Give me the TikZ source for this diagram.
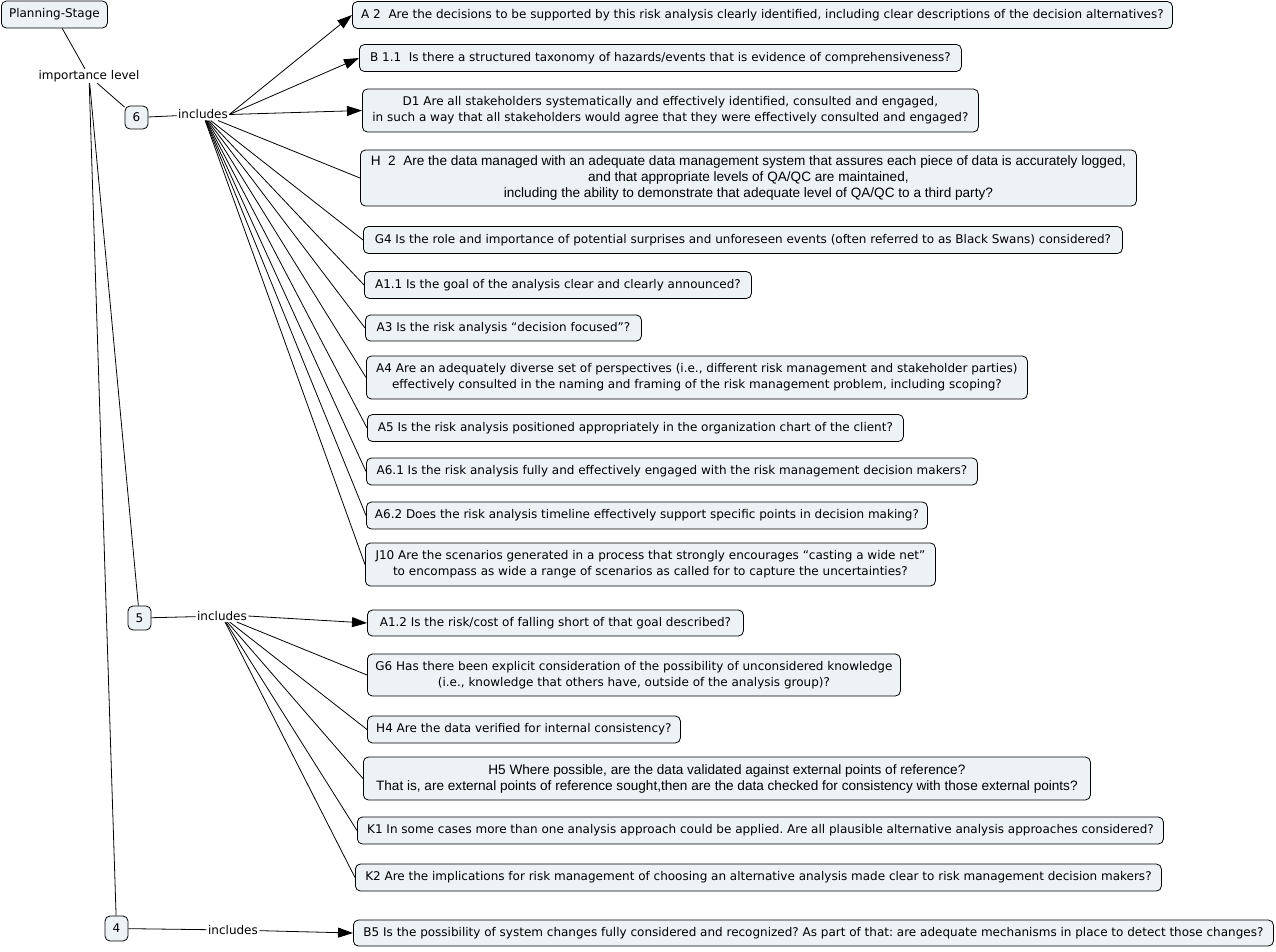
\documentclass[tikz,border=0pt]{standalone}
\usepackage{fontspec}
\setmainfont{DejaVu Sans}
\newfontfamily\hfont{Liberation Sans}
\usetikzlibrary{arrows.meta}
\definecolor{myblue1}{RGB}{237, 242, 245}
\tikzset{>={Triangle[length=15pt,width=10pt]}}
\tikzset{qbox/.style 2 args={draw, fill=myblue1, rounded corners=5pt, anchor=west, align=center, inner xsep=5pt, inner ysep=4pt, minimum width=#1, minimum height=#2}}
\tikzset{lnk/.style={inner sep=1pt}}
\newcommand{\hqfont}{\hfont\fontsize{13.6}{16}\selectfont}
\frenchspacing
\begin{document}
\begin{tikzpicture}[x=1pt, y=-1pt, line width=0.8pt, font=\fontsize{12}{16}\selectfont]
\useasboundingbox (0,0) rectangle (1276,951);
\node[qbox={106pt}{27pt}] (plan) at (1,14.5) {Planning-Stage};
\node[lnk] (imp) at (89,76) {importance level};
\node[qbox={23pt}{23pt}, anchor=center] (n6) at (136.5,117.5) {6};
\node[qbox={23pt}{24pt}, anchor=center] (n5) at (139.5,618) {5};
\node[qbox={23pt}{25pt}, anchor=center] (n4) at (116.5,928.5) {4};
\node[lnk] (inc6) at (203,114.5) {includes};
\node[lnk] (inc5) at (222,616) {includes};
\node[lnk] (inc4) at (233,930) {includes};
\node[qbox={820pt}{27pt}] (A2) at (352,15) {A 2~ Are the decisions to be supported by this risk analysis clearly identified, including clear descriptions of the decision alternatives?};
\node[qbox={602pt}{27pt}] (B11) at (359,58) {B 1.1~ Is there a structured taxonomy of hazards/events that is evidence of comprehensiveness?};
\node[qbox={616pt}{43pt}] (D1) at (362,110.5) {D1 Are all stakeholders systematically and effectively identified, consulted and engaged,\\ in such a way that all stakeholders would agree that they were effectively consulted and engaged?};
\node[qbox={776pt}{56pt}, font=\hqfont] (H2) at (360,178) {H~ 2~ Are the data managed with an adequate data management system that assures each piece of data is accurately logged,\\ and that appropriate levels of QA/QC are maintained,\\ including the ability to demonstrate that adequate level of QA/QC to a third party?};
\node[qbox={759pt}{27pt}] (G4) at (363,240) {G4 Is the role and importance of potential surprises and unforeseen events (often referred to as Black Swans) considered?};
\node[qbox={387pt}{27pt}] (A11) at (364,285) {A1.1 Is the goal of the analysis clear and clearly announced?};
\node[qbox={276pt}{26pt}] (A3) at (365,328) {A3 Is the risk analysis “decision focused”?};
\node[qbox={661pt}{43pt}] (A4) at (366,377.5) {A4 Are an adequately diverse set of perspectives (i.e., different risk management and stakeholder parties)\\ effectively consulted in the naming and framing of the risk management problem, including scoping?};
\node[qbox={536pt}{27pt}] (A5) at (367,428) {A5 Is the risk analysis positioned appropriately in the organization chart of the client?};
\node[qbox={611pt}{27pt}] (A61) at (366,471.5) {A6.1 Is the risk analysis fully and effectively engaged with the risk management decision makers?};
\node[qbox={561pt}{27pt}] (A62) at (366,515.5) {A6.2 Does the risk analysis timeline effectively support specific points in decision making?};
\node[qbox={570pt}{43pt}] (J10) at (365,564.5) {J10 Are the scenarios generated in a process that strongly encourages “casting a wide net”\\ to encompass as wide a range of scenarios as called for to capture the uncertainties?};
\node[qbox={376pt}{26pt}] (A12) at (367,623) {A1.2 Is the risk/cost of falling short of that goal described?};
\node[qbox={533pt}{42pt}] (G6) at (367,675) {G6 Has there been explicit consideration of the possibility of unconsidered knowledge\\ (i.e., knowledge that others have, outside of the analysis group)?};
\node[qbox={313pt}{27pt}] (H4) at (367,729.5) {H4 Are the data verified for internal consistency?};
\node[qbox={727pt}{43pt}, font=\hqfont] (H5) at (363,778.5) {H5 Where possible, are the data validated against external points of reference?\\ That is, are external points of reference sought,then are the data checked for consistency with those external points?};
\node[qbox={806pt}{27pt}] (K1) at (357,830.5) {K1 In some cases more than one analysis approach could be applied. Are all plausible alternative analysis approaches considered?};
\node[qbox={806pt}{27pt}] (K2) at (355,877.5) {K2 Are the implications for risk management of choosing an alternative analysis made clear to risk management decision makers?};
\node[qbox={920pt}{26pt}] (B5) at (353,933) {B5 Is the possibility of system changes fully considered and recognized? As part of that: are adequate mechanisms in place to detect those changes?};
\draw (plan) -- (imp);
\foreach \n in {n6, n5, n4}
\draw (imp) -- (\n);
\draw (n6) -- (inc6);
\draw (n5) -- (inc5);
\draw (n4) -- (inc4);
\foreach \q in {A2, B11, D1}
\draw[->] (inc6.east) -- (\q.west);
\foreach \q in {H2, G4, A11, A3, A4, A5, A61, A62, J10}
\draw (inc6) -- (\q.west);
\draw[->] (inc5.east) -- (A12.west);
\foreach \q in {G6, H4, H5, K1, K2}
\draw (inc5) -- (\q.west);
\draw[->] (inc4) -- (B5.west);
\end{tikzpicture}
\end{document}
